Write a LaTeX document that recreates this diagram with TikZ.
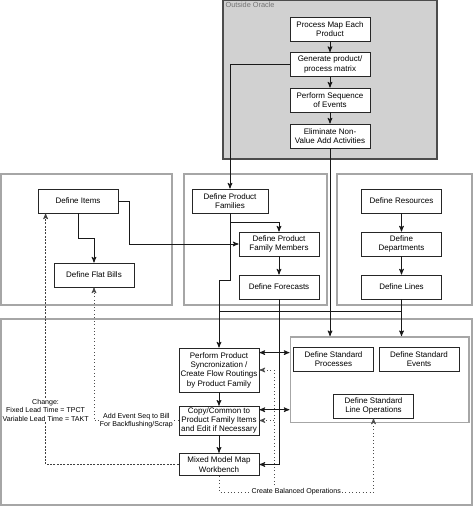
\documentclass[tikz,border=0pt]{standalone}
\usepackage{fontspec}
\setmainfont{Liberation Sans}
\usetikzlibrary{arrows,calc}

\begin{document}
\begin{tikzpicture}[>=stealth', x=0.75pt, y=-0.75pt,
        box/.style={draw=black!85, fill=white, line width=0.6pt, align=center,
            minimum width=60pt, minimum height=18pt, inner sep=1pt,
            font=\fontsize{6}{7}\selectfont},
        panel/.style={draw=black!35, line width=1pt},
        stdbox/.style={draw=black!35, fill=white, line width=1pt},
        conn/.style={->, line width=0.6pt, draw=black!90},
        dotline/.style={->, dotted, line width=0.6pt, draw=black!70},
        dashline/.style={->, dash pattern=on 1.5pt off 1pt, line width=0.6pt, draw=black!75},
        lbl/.style={fill=white, inner sep=0.5pt, align=center, font=\fontsize{5.3}{6.3}\selectfont}]

  \useasboundingbox (0,0) rectangle (474,506);

  % panels
  \path[panel] (1,174) rectangle (172,305);
  \path[panel] (184,174) rectangle (327,305);
  \path[panel] (337,174) rectangle (472,305);
  \path[panel] (1,319) rectangle (472,505);
  \path[draw=black!70, fill=black!18, line width=1pt] (223,0) rectangle (437,159);
  \node[anchor=north west, inner sep=1pt, text=black!55, font=\fontsize{5.5}{6}\selectfont] (oo) at (224,1) {Outside Oracle};

  % outside oracle
  \node[box] (pm) at (330,29) {Process Map Each\\Product};
  \node[box] (gen) at (330,64.5) {Generate product/\\process matrix};
  \node[box] (seq) at (330,100) {Perform Sequence\\of Events};
  \node[box] (elim) at (330,136) {Eliminate Non-\\Value Add Activities};

  % items
  \node[box] (items) at (78,201) {Define Items};
  \node[box] (flat) at (94,275) {Define Flat Bills};

  % families
  \node[box, minimum width=57pt] (fam) at (230,201) {Define Product\\Families};
  \node[box] (mem) at (279,244) {Define Product\\Family Members};
  \node[box] (fc) at (279,287) {Define Forecasts};

  % resources
  \node[box] (res) at (401.5,201) {Define Resources};
  \node[box] (dep) at (401.5,244) {Define\\Departments};
  \node[box] (lines) at (401.5,287) {Define Lines};

  % flow
  \node[box, minimum height=33pt] (pps) at (219,370) {Perform Product\\Syncronization /\\Create Flow Routings\\by  Product Family};
  \node[box, minimum height=20pt] (copy) at (219,420.5) {Copy/Common to\\Product Family Items\\and Edit if Necessary};
  \node[box, minimum height=17pt] (mmm) at (219,464.5) {Mixed Model Map\\Workbench};

  % standards
  \node[stdbox, minimum width=134pt, minimum height=64pt] (std) at (379.5,379.5) {};
  \node[box] (sp) at (333.5,359) {Define Standard\\Processes};
  \node[box] (se) at (419,359) {Define Standard\\Events};
  \node[box] (slo) at (373.5,406) {Define Standard\\Line Operations};

  \coordinate (jn) at (219,311);
  \coordinate (cbo) at (274,492);
  \coordinate (ppsa) at ([yshift=-3.75pt]pps.north east);
  \coordinate (copya) at ([yshift=-3pt]copy.north east);
  \coordinate (chg) at ([xshift=6pt]items.south west);

  \draw[conn] (pm) -- (gen);
  \draw[conn] (gen) -- (seq);
  \draw[conn] (seq) -- (elim);
  \draw[conn] (gen.west) -| (fam.north);
  \draw[conn] (elim.south) -- (elim.south |- std.north);

  \draw[conn] (items.south) -- ++(0,25) -| (flat.north);
  \draw[conn] (items.east) -- ++(11,0) |- (mem.west);
  \draw[conn] (fam.south) -- ++(0,9) -| (mem.north);
  \draw[conn] (mem) -- (fc);
  \draw[conn] (res) -- (dep);
  \draw[conn] (dep) -- (lines);

  \draw[conn] (fam.south) -- ++(0,67) -| (pps.north);
  \draw[conn, -] (lines.south) |- (jn);
  \draw[conn] (lines.south) -- (lines.south |- std.north);
  \draw[conn] (fc.south) |- (mmm.east);

  \draw[conn] (pps) -- (copy);
  \draw[conn] (copy) -- (mmm);
  \draw[conn, <->] (ppsa) -- (ppsa -| std.west);
  \draw[conn, <->] (copya) -- (copya -| std.west);

  \draw[dotline] (cbo) |- (pps.east);
  \draw[dotline] (cbo |- copy.east) -- (copy.east);
  \draw[dotline] (mmm.south) -- (mmm.south |- cbo) -| node[lbl, pos=0.25] {Create Balanced Operations} (slo.south);
  \draw[dotline] (copy.west) -| node[lbl, pos=0.25] {Add Event Seq to Bill\\For Backflushing/Scrap} (flat.south);
  \draw[dashline] (mmm.west) -| node[lbl, pos=0.608] {Change:\\Fixed Lead Time = TPCT\\Variable Lead Time = TAKT} (chg);

\end{tikzpicture}
\end{document}
